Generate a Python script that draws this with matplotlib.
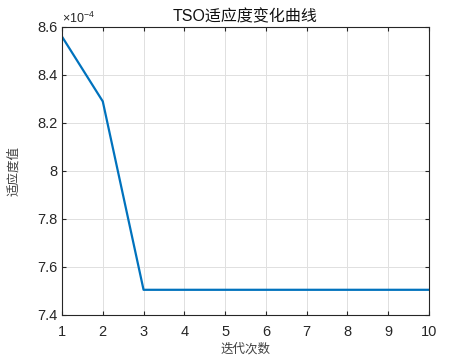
import matplotlib
matplotlib.use("Agg")
import matplotlib.pyplot as plt
from matplotlib.ticker import MultipleLocator, FuncFormatter

plt.rcParams['font.family'] = ['Liberation Sans', 'Noto Sans CJK SC']
plt.rcParams['mathtext.fontset'] = 'custom'
plt.rcParams['mathtext.rm'] = 'Liberation Sans'

iters = [1, 2, 3, 4, 5, 6, 7, 8, 9, 10]
fitness = [8.56e-4, 8.29e-4, 7.505e-4, 7.505e-4, 7.505e-4,
           7.505e-4, 7.505e-4, 7.505e-4, 7.505e-4, 7.505e-4]

fig = plt.figure(figsize=(4.74, 3.55), dpi=100)
ax = fig.add_axes([62/474, 1 - 315/355, (429-62)/474, (315-27)/355])

ax.plot(iters, fitness, color='#0072BD', linewidth=1.6)
ax.set_xlim(1, 10)
ax.set_ylim(7.4e-4, 8.6e-4)
ax.xaxis.set_major_locator(MultipleLocator(1))
ax.yaxis.set_major_locator(MultipleLocator(0.2e-4))
ax.yaxis.set_major_formatter(FuncFormatter(lambda v, p: '%g' % round(v * 1e4, 4)))
ax.text(0, 1.005, r'$\times 10^{-4}$', transform=ax.transAxes, fontsize=9,
        color='#262626', va='bottom', ha='left')

ax.grid(True, color='#e0e0e0', linewidth=0.7)
ax.set_axisbelow(True)
ax.tick_params(direction='in', labelsize=10.5, colors='#262626', length=3,
               top=True, right=True)
ax.tick_params(axis='x', pad=7)
for s in ax.spines.values():
    s.set_color('#262626')
    s.set_linewidth(0.8)

ax.set_title('TSO适应度变化曲线', fontsize=11.5, color='#111111', pad=4)
ax.set_xlabel('迭代次数', fontsize=9, color='#404040',
              family=['Noto Sans CJK SC'], labelpad=3)
ax.set_ylabel('适应度值', fontsize=9, color='#404040',
              family=['Noto Sans CJK SC'], labelpad=12)

fig.savefig('out.png', dpi=100)
